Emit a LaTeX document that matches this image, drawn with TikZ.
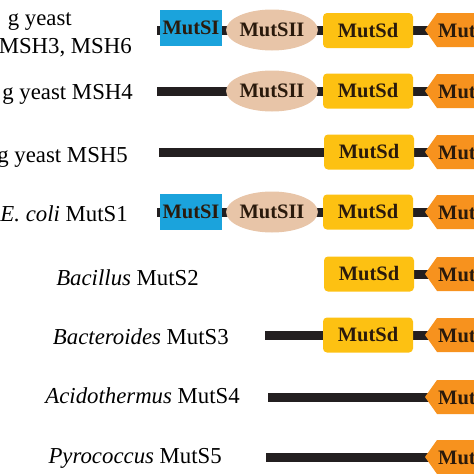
\documentclass[tikz,border=0pt]{standalone}
\usepackage{fontspec}
\setmainfont{Liberation Serif}
\usetikzlibrary{positioning,shapes.geometric,backgrounds}
\definecolor{Bar}{HTML}{231F20}
\definecolor{DomI}{HTML}{1BA3DC}
\definecolor{DomII}{HTML}{E8C5A8}
\definecolor{DomD}{HTML}{FDC112}
\definecolor{DomC}{HTML}{F7921E}
\definecolor{DomText}{HTML}{2A1A0C}

\begin{document}
\begin{tikzpicture}[x=1pt,y=-1pt,
  lbl/.style={anchor=base east,inner sep=0pt,font=\fontsize{22.8}{24}\selectfont},
  dom/.style={inner sep=0pt,text=DomText,font=\fontsize{20.5}{22}\selectfont\bfseries},
  mutsi/.style={dom,fill=DomI,minimum width=62pt,minimum height=36pt},
  mutsii/.style={dom,ellipse,fill=DomII,minimum width=70pt,minimum height=41pt},
  mutsd/.style={dom,fill=DomD,rounded corners=4pt,minimum width=90pt,minimum height=35pt},
  bar/.style={Bar,line width=9pt}]
\useasboundingbox (0,0) rectangle (474,474);
\clip (0,0) rectangle (474,474);
% C-terminal tips, clipped at the right edge
\foreach \y [count=\i] in {30,91,152,212,274,335,397,457} {
  \fill[DomC] (425,\y) -- (437,\y-17) -- (490,\y-17) -- (490,\y+17) -- (437,\y+17) -- cycle;
  \node[dom,anchor=base west] (c\i) at (438,\y+7) {Mut};
  \coordinate (t\i) at (431,\y);
}
% labels
\node[lbl] (n1a) at (72,25) {g yeast};
\node[lbl] (n1b) at (132,53) {MSH3, MSH6};
\node[lbl] (n2) at (133,99) {g yeast MSH4};
\node[lbl] (n3) at (128,162) {g yeast MSH5};
\node[lbl] (n4) at (128,221) {\textit{E. coli} MutS1};
\node[lbl] (n5) at (199,285) {\textit{Bacillus} MutS2};
\node[lbl] (n6) at (229,344) {\textit{Bacteroides} MutS3};
\node[lbl] (n7) at (240,403) {\textit{Acidothermus} MutS4};
\node[lbl] (n8) at (222,463) {\textit{Pyrococcus} MutS5};
% domains
\node[mutsi] (i1) at (191,28) {MutSI};
\node[mutsii] (ii1) at (272,30) {MutSII};
\node[mutsd] (d1) at (368,30.5) {MutSd};
\node[mutsii] (ii2) at (272,91) {MutSII};
\node[mutsd] (d2) at (368,91) {MutSd};
\node[mutsd] (d3) at (369,152) {MutSd};
\node[mutsi] (i4) at (191,211.5) {MutSI};
\node[mutsii] (ii4) at (272,212) {MutSII};
\node[mutsd] (d4) at (368,212) {MutSd};
\node[mutsd] (d5) at (369,274) {MutSd};
\node[mutsd] (d6) at (368,335) {MutSd};
% backbones
\coordinate (s1) at (157,30);
\coordinate (s2) at (157,91);
\coordinate (s3) at (159,152);
\coordinate (s4) at (157,212);
\coordinate (s6) at (265,335);
\coordinate (s7) at (268,397);
\coordinate (s8) at (266,457);
\begin{scope}[on background layer]
\draw[bar] (s1) -- (t1);
\draw[bar] (s2) -- (t2);
\draw[bar] (s3) -- (t3);
\draw[bar] (s4) -- (t4);
\draw[bar] (d5) -- (t5);
\draw[bar] (s6) -- (t6);
\draw[bar] (s7) -- (t7);
\draw[bar] (s8) -- (t8);
\end{scope}
\end{tikzpicture}
\end{document}
